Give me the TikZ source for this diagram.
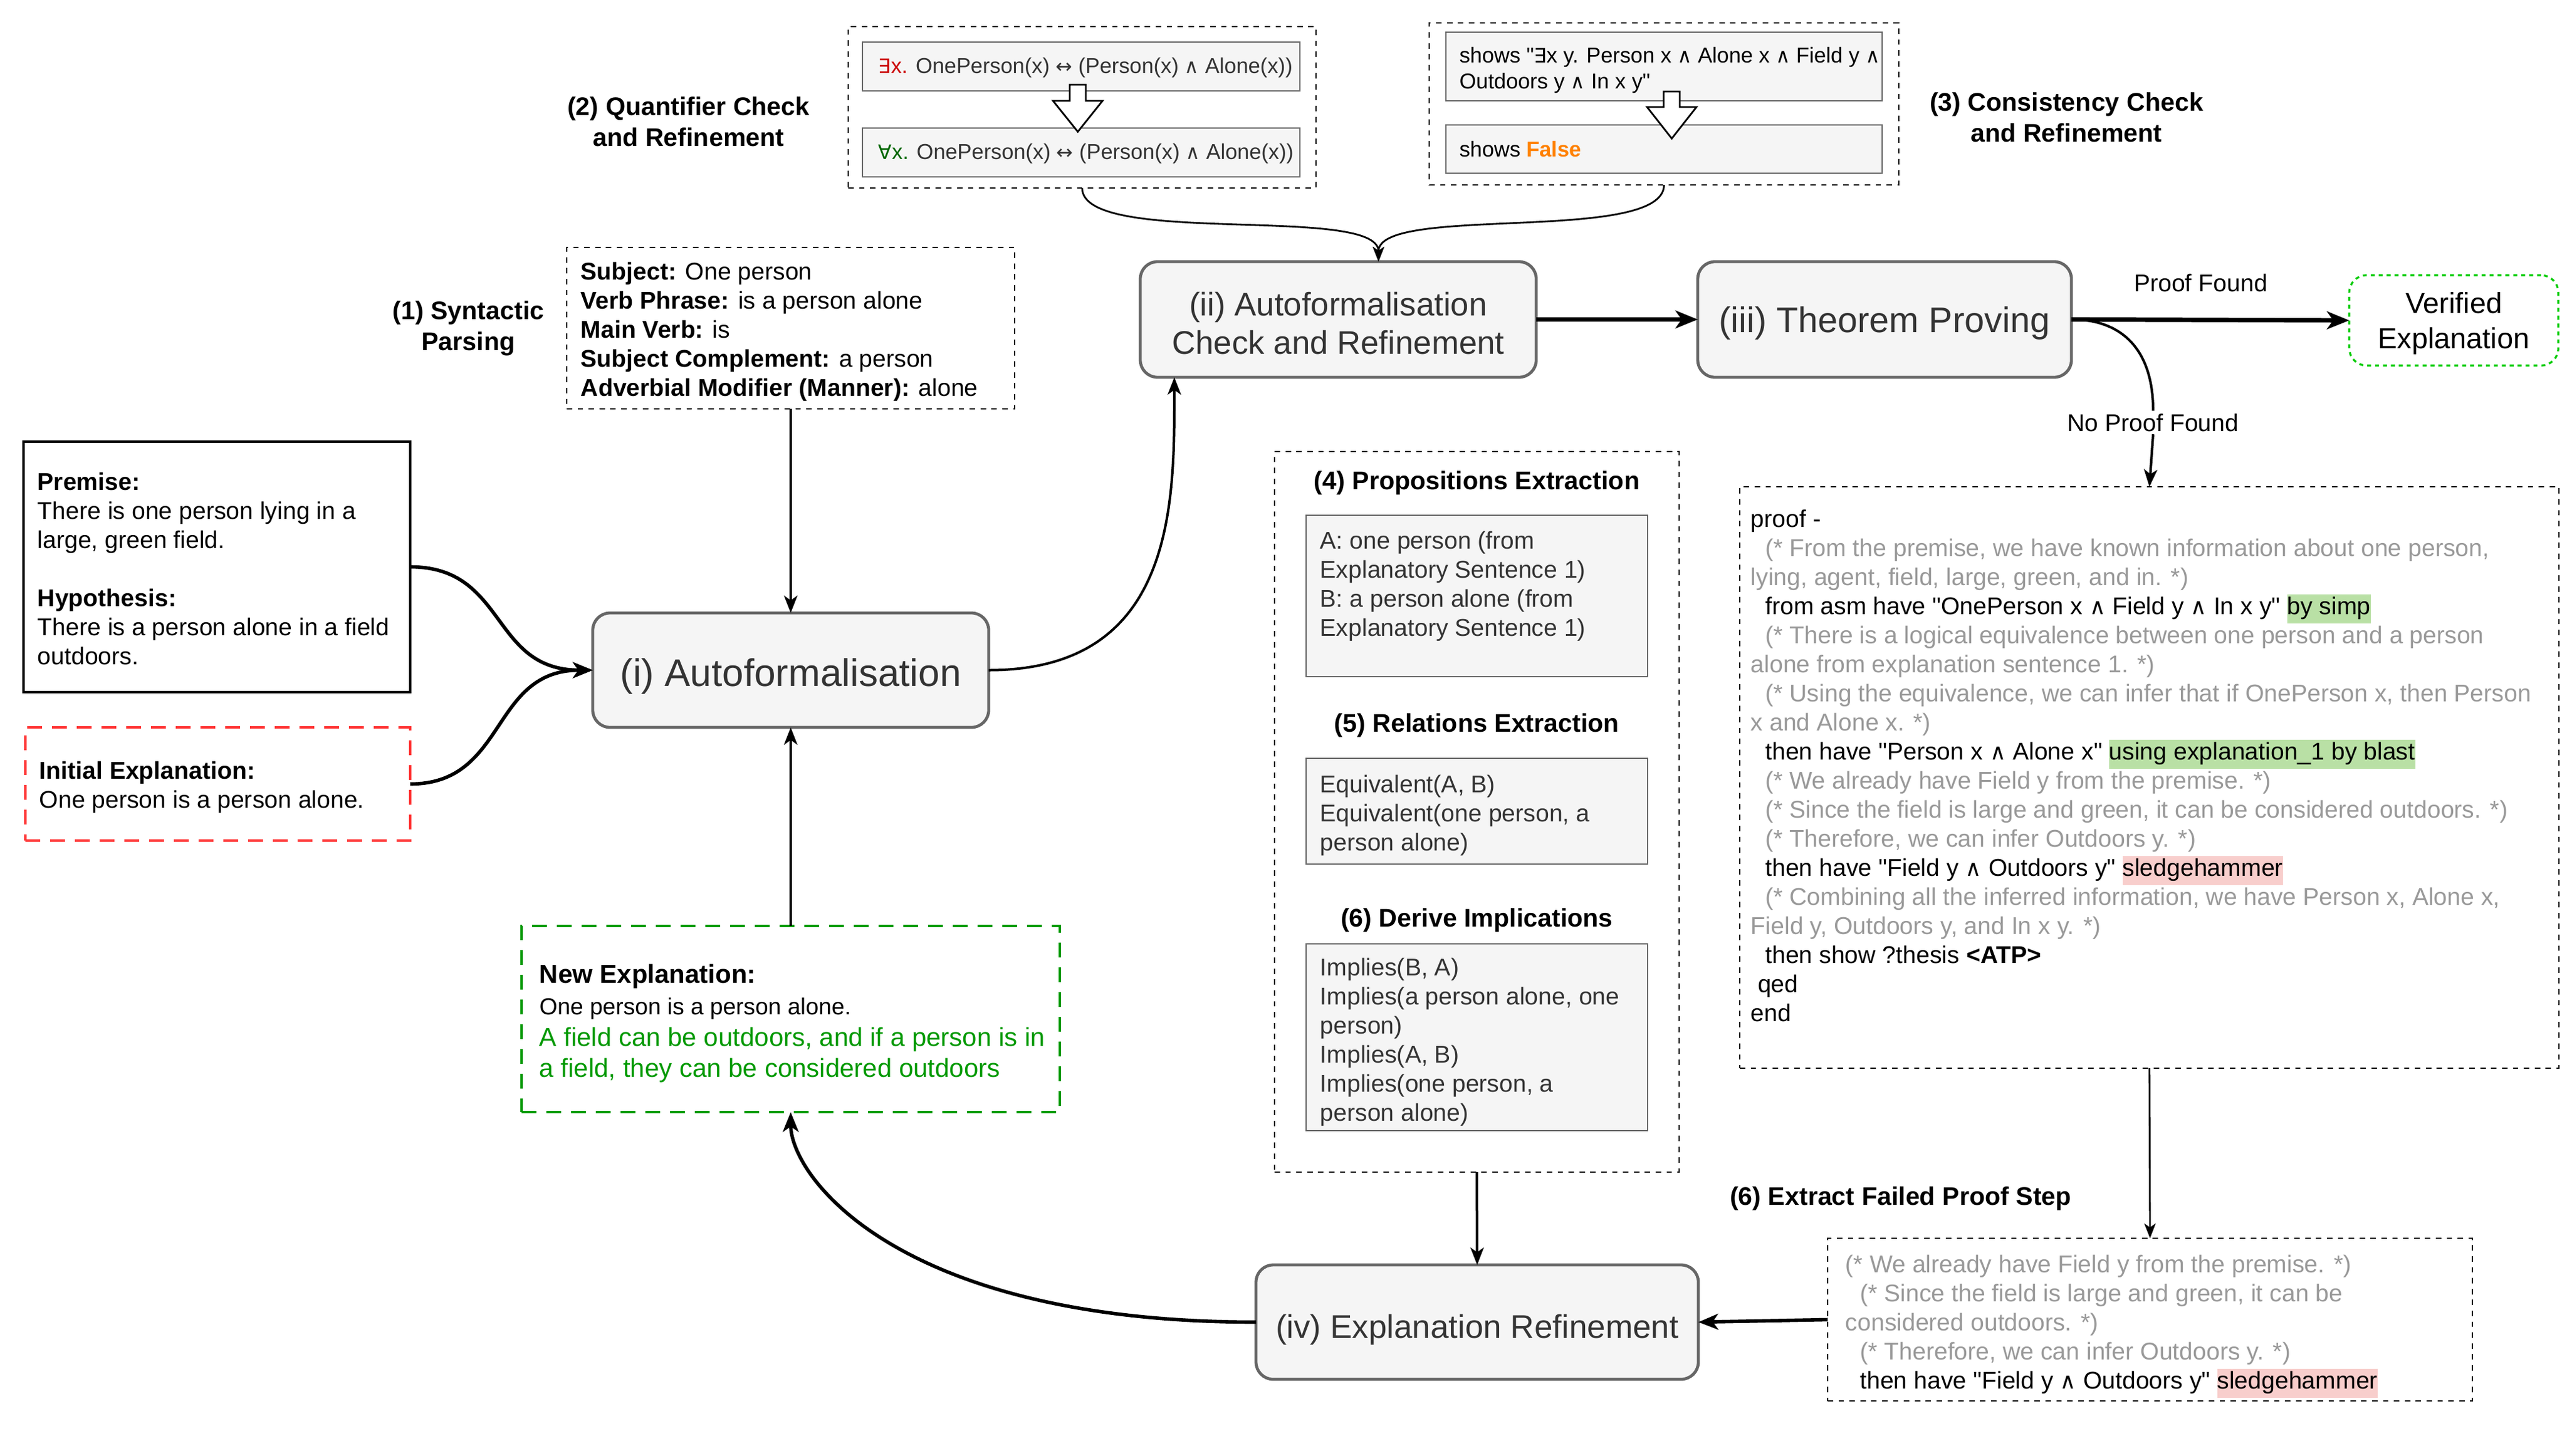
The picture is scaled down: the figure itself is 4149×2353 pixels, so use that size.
\documentclass[tikz,border=0pt]{standalone}
\usepackage{fontspec}
\setmainfont{Liberation Sans}
\newfontfamily\symf{DejaVu Sans}[Scale=0.92]
\usetikzlibrary{arrows.meta,fit}
\definecolor{boxfill}{HTML}{F5F5F5}
\definecolor{boxline}{HTML}{666666}
\definecolor{dtext}{HTML}{333333}
\definecolor{cmt}{HTML}{999999}
\definecolor{hlgreen}{HTML}{B9E0A5}
\definecolor{hlred}{HTML}{F8CECC}
\definecolor{forange}{HTML}{FF8000}
\definecolor{exred}{HTML}{CC0000}
\definecolor{allgreen}{HTML}{006600}
\definecolor{newgreen}{HTML}{009900}
\definecolor{initred}{HTML}{FF3333}
\definecolor{vergreen}{HTML}{00CC00}
\newcommand{\myex}{{\symf ∃}}
\newcommand{\myall}{{\symf ∀}}
\newcommand{\myand}{{\symf ∧}}
\newcommand{\myiff}{{\symf ↔}}
\newcommand{\dq}{\XeTeXglyph\XeTeXcharglyph"0022\relax}
\newcommand{\hlG}[1]{{\setlength{\fboxsep}{0pt}\colorbox{hlgreen}{\strut #1}}}
\newcommand{\hlR}[1]{{\setlength{\fboxsep}{0pt}\colorbox{hlred}{\strut #1}}}
\newcommand{\indt}{\hspace*{5.9pt}}
\newcommand{\cmt}[1]{{\color{cmt}#1}}
\newcommand{\fbody}{\fontsize{9.8}{11.75}\selectfont}
\newcommand{\flab}{\fontsize{10.3}{12.6}\selectfont\bfseries}
\newcommand{\fsmall}{\fontsize{8.7}{10.5}\selectfont}
\begin{document}
\begin{tikzpicture}[x=0.25pt, y=-0.25pt,
 box/.style={inner sep=0pt, outer sep=0pt},
 mainbox/.style={box, draw=boxline, fill=boxfill, line width=1.2pt, rounded corners=7pt},
 maintext/.style={inner sep=0pt, text=dtext, align=center},
 graybox/.style={box, draw=boxline, fill=boxfill, line width=0.7pt},
 dashbox/.style={box, draw=black, line width=0.6pt, dash pattern=on 2.2pt off 2.2pt},
 txt/.style={anchor=north west, inner sep=0pt, align=left, font=\fbody},
 oneline/.style={anchor=base west, inner sep=0pt},
 lab/.style={inner sep=0pt, align=center, font=\flab},
 blockarr/.style={fill=white, draw=black, line width=0.7pt},
 a1/.style={line width=0.7pt, -{Stealth[length=6pt,width=4.6pt,inset=1.6pt]}},
 a2/.style={line width=1pt, -{Stealth[length=7pt,width=5.4pt,inset=1.9pt]}},
 a3/.style={line width=1.4pt, -{Stealth[length=8pt,width=6.4pt,inset=2.2pt]}},
 a4/.style={line width=1.8pt, -{Stealth[length=9pt,width=7.2pt,inset=2.5pt]}}
]
\fill[white] (0,0) rectangle (4149,2353);
\useasboundingbox (0,0) rectangle (4149,2353);

% ---- (2) quantifier check
\node[dashbox, fit={(1371,43) (2127,304)}] (quant) {};
\node[graybox, fit={(1394,68) (2101,147)}] (qa) {};
\node[graybox, fit={(1394,207) (2101,286)}] (qb) {};
\node[oneline, font=\fsmall, text=dtext] (qat) at (1419,119) {{\color{exred}\myex x.} OnePerson(x) \myiff{} (Person(x) \myand{} Alone(x))};
\node[oneline, font=\fsmall, text=dtext] (qbt) at (1419,258) {{\color{allgreen}\myall x.} OnePerson(x) \myiff{} (Person(x) \myand{} Alone(x))};
\draw[blockarr] (1729,137) -- (1755,137) -- (1755,163) -- (1782,163) -- (1742,213) -- (1702,163) -- (1729,163) -- cycle;
\node[lab] (l2) at (1113,197) {(2) Quantifier Check\\and Refinement};

% ---- (3) consistency check
\node[dashbox, fit={(2310,37) (3069,299)}] (cons) {};
\node[graybox, fit={(2337,52) (3042,163)}] (ca) {};
\node[graybox, fit={(2337,202) (3042,280)}] (cb) {};
\node[txt, font=\fsmall, text=black] (cat) at (2358,71) {\strut shows \dq\myex x y. Person x \myand{} Alone x \myand{} Field y \myand\\Outdoors y \myand{} In x y\dq};
\node[oneline, font=\fsmall, text=black] (cbt) at (2358,254) {shows {\color{forange}\bfseries False}};
\draw[blockarr] (2689,148) -- (2715,148) -- (2715,173) -- (2742,173) -- (2702,224) -- (2662,173) -- (2689,173) -- cycle;
\node[lab] (l3) at (3340,190) {(3) Consistency Check\\and Refinement};

% ---- (1) syntactic parsing
\node[lab] (l1) at (757,531) {(1) Syntactic\\Parsing};
\node[dashbox, fit={(916,400) (1640,661)}] (syn) {};
\node[txt] (synt) at (938,419) {\strut\textbf{Subject:} One person\\\textbf{Verb Phrase:} is a person alone\\\textbf{Main Verb:} is\\\textbf{Subject Complement:} a person\\\textbf{Adverbial Modifier (Manner):} alone};

% ---- premise / initial explanation
\node[box, draw=black, line width=0.8pt, fit={(38,714) (663,1119)}] (prem) {};
\node[txt] (premt) at (60,759) {\strut\textbf{Premise:}\\There is one person lying in a\\large, green field.\\\strut\\\textbf{Hypothesis:}\\There is a person alone in a field\\outdoors.};
\node[box, draw=initred, line width=0.8pt, dash pattern=on 6pt off 4pt, fit={(41,1176) (663,1359)}] (init) {};
\node[txt] (initt) at (63,1226) {\strut\textbf{Initial Explanation:}\\One person is a person alone.};

% ---- main boxes
\node[mainbox, fit={(958,991) (1598,1176)}] (auto) {};
\node[maintext, font=\fontsize{15.5}{18}\selectfont, yshift=-2.5pt] (autot) at (auto.center) {(i) Autoformalisation};
\node[mainbox, fit={(1843,423) (2483,610)}] (chk) {};
\node[maintext, font=\fontsize{13.2}{15.6}\selectfont, yshift=-1.5pt] (chkt) at (chk.center) {(ii) Autoformalisation\\Check and Refinement};
\node[mainbox, fit={(2744,423) (3348,610)}] (thm) {};
\node[maintext, font=\fontsize{14.4}{17}\selectfont, yshift=-1.5pt] (thmt) at (thm.center) {(iii) Theorem Proving};
\node[box, draw=vergreen, line width=0.8pt, dash pattern=on 1.6pt off 1.6pt, rounded corners=7pt, fit={(3797,445) (4135,591)}] (ver) {};
\node[maintext, text=black, font=\fontsize{11.7}{14.2}\selectfont, yshift=-1.2pt] (vert) at (ver.center) {Verified\\Explanation};
\node[mainbox, fit={(2030,2045) (2745,2230)}] (ref) {};
\node[maintext, font=\fontsize{13.25}{15.6}\selectfont, yshift=-3pt] (reft) at (ref.center) {(iv) Explanation Refinement};

% ---- new explanation
\node[box, draw=newgreen, line width=0.8pt, dash pattern=on 6pt off 4pt, fit={(843,1497) (1713,1798)}] (newx) {};
\node[oneline, font=\fontsize{10.5}{12.6}\selectfont\bfseries] (nx1) at (871,1589) {New Explanation:};
\node[oneline, font=\fontsize{9.4}{11.3}\selectfont] (nx2) at (871,1640) {One person is a person alone.};
\node[txt, font=\fontsize{10.5}{12.4}\selectfont, text=newgreen] (nx3) at (871,1656) {\strut A field can be outdoors, and if a person is in\\a field, they can be considered outdoors};

% ---- proof box
\node[dashbox, fit={(2812,787) (4136,1727)}] (proof) {};
\node[txt] (prooft) at (2829,819) {\strut proof -\\
\indt\cmt{(* From the premise, we have known information about one person,}\\
\cmt{lying, agent, field, large, green, and in. *)}\\
\indt from asm have \dq OnePerson x \myand{} Field y \myand{} In x y\dq{} \hlG{by simp}\\
\indt\cmt{(* There is a logical equivalence between one person and a person}\\
\cmt{alone from explanation sentence 1. *)}\\
\indt\cmt{(* Using the equivalence, we can infer that if OnePerson x, then Person}\\
\cmt{x and Alone x. *)}\\
\indt then have \dq Person x \myand{} Alone x\dq{} \hlG{using explanation\_1 by blast}\\
\indt\cmt{(* We already have Field y from the premise. *)}\\
\indt\cmt{(* Since the field is large and green, it can be considered outdoors. *)}\\
\indt\cmt{(* Therefore, we can infer Outdoors y. *)}\\
\indt then have \dq Field y \myand{} Outdoors y\dq{} \hlR{sledgehammer}\\
\indt\cmt{(* Combining all the inferred information, we have Person x, Alone x,}\\
\cmt{Field y, Outdoors y, and In x y. *)}\\
\indt then show ?thesis \textbf{<ATP>}\\
\hspace*{2.8pt}qed\\
end};

% ---- propositions box
\node[dashbox, fit={(2060,730) (2714,1895)}] (prop) {};
\node[lab] (h4) at (2387,781) {(4) Propositions Extraction};
\node[graybox, fit={(2111,833) (2663,1094)}] (pa) {};
\node[txt, text=dtext] (pat) at (2133,854) {\strut A: one person (from\\Explanatory Sentence 1)\\B: a person alone (from\\Explanatory Sentence 1)};
\node[lab] (h5) at (2387,1173) {(5) Relations Extraction};
\node[graybox, fit={(2111,1226) (2663,1397)}] (pb) {};
\node[txt, text=dtext] (pbt) at (2133,1248) {\strut Equivalent(A, B)\\Equivalent(one person, a\\person alone)};
\node[lab] (h6) at (2387,1488) {(6) Derive Implications};
\node[graybox, fit={(2111,1526) (2663,1828)}] (pc) {};
\node[txt, text=dtext] (pct) at (2133,1544) {\strut Implies(B, A)\\Implies(a person alone, one\\person)\\Implies(A, B)\\Implies(one person, a\\person alone)};

% ---- extract failed step
\node[lab] (l6e) at (3072,1938) {(6) Extract Failed Proof Step};
\node[dashbox, fit={(2954,2002) (3996,2265)}] (ext) {};
\node[txt] (extt) at (2982,2024) {\strut\cmt{(* We already have Field y from the premise. *)}\\
\indt\cmt{(* Since the field is large and green, it can be}\\
\cmt{considered outdoors. *)}\\
\indt\cmt{(* Therefore, we can infer Outdoors y. *)}\\
\indt then have \dq Field y \myand{} Outdoors y\dq{} \hlR{sledgehammer}};

% ---- edge labels
\node[inner sep=0pt, font=\fbody] (pf) at (3557,457) {Proof Found};
\node[inner sep=1pt, font=\fbody] (npf) at (3480,683) {No Proof Found};

% ---- coordinates
\coordinate (chkin) at (1898,610);
\coordinate (chktop) at (2228,423);

% ---- connectors
\draw[a3] (prem.east) .. controls +(157,0) and +(-166,0) .. (auto.west);
\draw[a3] (init.east) .. controls +(157,0) and +(-166,0) .. (auto.west);
\draw[a2] (syn.south) -- (auto.north);
\draw[a2] (newx.north) -- (auto.south);
\draw[a2] (auto.east) .. controls +(304,0) and +(0,200) .. (chkin);
\draw[a1] (quant.south) .. controls +(0,96) and +(0,-93) .. (chktop);
\draw[a1] (cons.south) .. controls +(0,96) and +(0,-93) .. (chktop);
\draw[a4] (chk.east) -- (thm.west);
\draw[a4] (thm.east) -- (ver.west);
\draw[line width=1pt] (thm.east) .. controls +(85,0) and +(0,-95) .. (npf.north);
\draw[a2] (npf.south) -- (proof.north);
\draw[a1] (proof.south) -- (ext.north);
\draw[a2] (prop.south) -- (ref.north);
\draw[a3] (ext.west) -- (ref.east);
\draw[a3] (ref.west) .. controls +(-583,0) and +(0,102) .. (newx.south);
\end{tikzpicture}
\end{document}
